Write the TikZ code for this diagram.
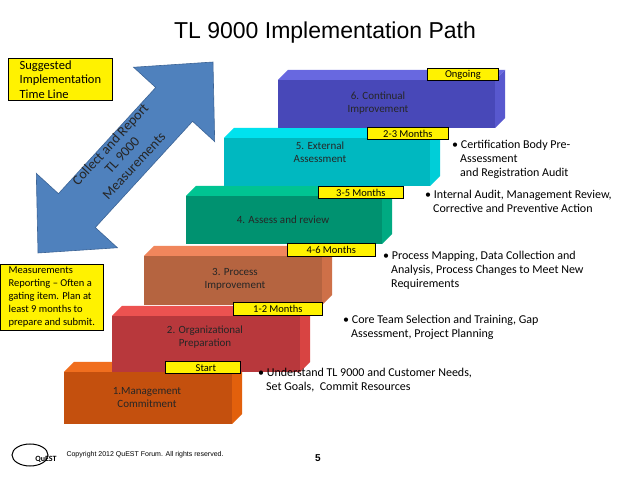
\documentclass[tikz,border=0pt]{standalone}
\usepackage{fontspec}
\setmainfont{Carlito}
\newfontfamily\arial{Liberation Sans}
\definecolor{f1}{RGB}{196,80,14}\definecolor{u1}{RGB}{240,110,30}\definecolor{r1}{RGB}{226,96,12}
\definecolor{f2}{RGB}{184,56,60}\definecolor{u2}{RGB}{236,82,80}\definecolor{r2}{RGB}{216,68,66}
\definecolor{f3}{RGB}{181,100,64}\definecolor{u3}{RGB}{240,134,92}\definecolor{r3}{RGB}{206,112,72}
\definecolor{f4}{RGB}{0,146,112}\definecolor{u4}{RGB}{0,196,146}\definecolor{r4}{RGB}{0,170,130}
\definecolor{f5}{RGB}{0,184,192}\definecolor{u5}{RGB}{0,226,238}\definecolor{r5}{RGB}{0,206,216}
\definecolor{f6}{RGB}{72,72,184}\definecolor{u6}{RGB}{104,104,224}\definecolor{r6}{RGB}{88,88,206}
\definecolor{arrf}{RGB}{79,129,189}\definecolor{arrd}{RGB}{60,100,150}
\newcommand\stp[8]{%
  \fill[#6] (#1,#2) -- ++(10,-10) -- (#3+10,#2-10) -- (#3,#2) -- cycle;
  \fill[#7] (#3,#2) -- (#3+10,#2-10) -- (#3+10,#4-10) -- (#3,#4) -- cycle;
  \fill[#5] (#1,#2) rectangle (#3,#4);
  \node[stext] (#8) at ({(#1+#3)/2},{(#2+#4)/2}) {};}
\begin{document}
\begin{tikzpicture}[x=1pt,y=-1pt,
  stext/.style={inner sep=0pt},
  lab/.style={draw=black,line width=0.8pt,fill=yellow,anchor=north west,inner sep=0pt,font=\fontsize{10.5}{11}\selectfont,text height=8pt},
  steptxt/.style={font=\fontsize{11}{13}\selectfont,align=center,text=black!85},
  bul/.style={anchor=north west,align=left,font=\fontsize{12}{14}\selectfont,inner sep=0pt},
  note/.style={draw=black,line width=0.8pt,fill=yellow,anchor=north west,align=left,inner sep=2pt}]
\useasboundingbox (0,0) rectangle (638,478);
\fill[white] (0,0) rectangle (638,478);
\node[font=\arial\fontsize{23}{26}\selectfont] (title) at (325,33) {TL 9000 Implementation Path};
% arrow
\begin{scope}[shift={(125.5,157.5)},rotate=47.5]
\draw[fill=arrf,draw=arrd,line width=0.6pt]
 (-129.5,0)--(-72,55)--(-72,25)--(72,25)--(72,55)--(129.5,0)--(72,-55)--(72,-25)--(-72,-25)--(-72,-55)--cycle;
\end{scope}
\node[rotate=47.5,align=center,font=\fontsize{14}{16}\selectfont,text=black!85] (arrtxt) at (122,155) {Collect and Report\\TL 9000\\Measurements};
% steps
\stp{64}{372}{232}{424}{f1}{u1}{r1}{s1}
\stp{112}{316}{300}{372}{f2}{u2}{r2}{s2}
\stp{144}{256}{322}{305}{f3}{u3}{r3}{s3}
\stp{186}{196}{382}{244}{f4}{u4}{r4}{s4}
\stp{224}{138}{430}{186}{f5}{u5}{r5}{s5}
\stp{278}{80}{495}{128}{f6}{u6}{r6}{s6}
\node[steptxt] (t1) at (147,398) {1.Management\\Commitment};
\node[steptxt] (t2) at (205,337) {2. Organizational\\Preparation};
\node[steptxt] (t3) at (235,279) {3. Process\\Improvement};
\node[steptxt] (t4) at (283,220) {4. Assess and review};
\node[steptxt] (t5) at (320,152) {5. External\\Assessment};
\node[steptxt] (t6) at (378,103) {6. Continual\\Improvement};
% labels
\node[lab,minimum width=75pt,minimum height=12pt] (l1) at (165,361) {\hspace{6pt}Start\hfill};
\node[lab,minimum width=89pt,minimum height=13pt] (l2) at (233,302) {1-2 Months};
\node[lab,minimum width=88pt,minimum height=13pt] (l3) at (287,243) {4-6 Months};
\node[lab,minimum width=85pt,minimum height=12pt] (l4) at (318,186) {3-5 Months};
\node[lab,minimum width=81pt,minimum height=12pt] (l5) at (367,127) {2-3 Months};
\node[lab,minimum width=71pt,minimum height=12pt] (l6) at (427,68) {Ongoing};
% bullets
\node[bul] (b5) at (452,140) {• Certification Body Pre-\\\hspace{8pt}Assessment\\\hspace{8pt}and Registration Audit};
\node[bul] (b4) at (425,190) {• Internal Audit, Management Review,\\\hspace{8pt}Corrective and Preventive Action};
\node[bul] (b3) at (383,251) {• Process Mapping, Data Collection and\\\hspace{8pt}Analysis, Process Changes to Meet New\\\hspace{8pt}Requirements};
\node[bul] (b2) at (343,315) {• Core Team Selection and Training, Gap\\\hspace{8pt}Assessment, Project Planning};
\node[bul] (b1) at (258,368) {• Understand TL 9000 and Customer Needs,\\\hspace{8pt}Set Goals,\ \ Commit Resources};
% notes
\node[note,font=\fontsize{12.5}{14.5}\selectfont,minimum width=104pt,minimum height=42pt] (n1) at (8,58) {Suggested\\Implementation\\Time Line};
\node[note,font=\fontsize{10.5}{13}\selectfont,minimum width=103pt,minimum height=66pt] (n2) at (0,264) {Measurements\\Reporting -- Often a\\gating item. Plan at\\least 9 months to\\prepare and submit.};
% footer
\draw[line width=1pt] (30,455) ellipse (18pt and 11pt);
\node[font=\bfseries\fontsize{8}{9}\selectfont\rmfamily] (logo) at (46,459) {QuEST};
\node[anchor=west,font=\arial\fontsize{7}{8}\selectfont] (copy) at (63,455) {Copyright 2012 QuEST Forum. All rights reserved.};
\node[font=\arial\bfseries\fontsize{10}{12}\selectfont] (pg) at (318,458) {5};
\end{tikzpicture}
\end{document}
